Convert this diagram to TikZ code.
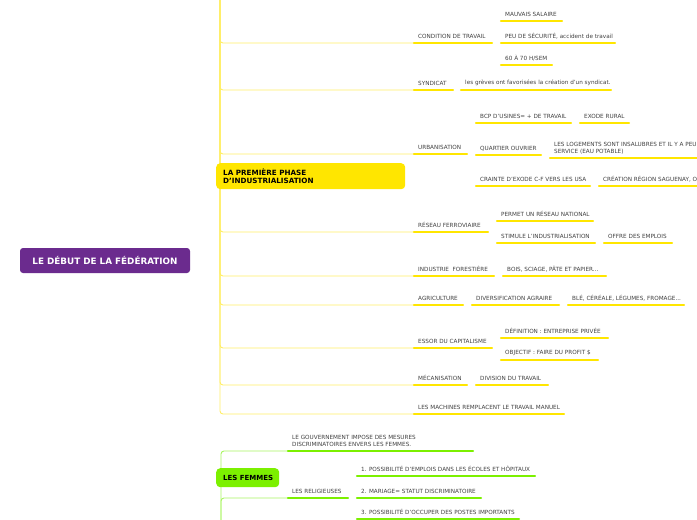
\documentclass[tikz,border=0pt]{standalone}
\usepackage{fontspec}
\setmainfont{DejaVu Sans}
\definecolor{ylw}{HTML}{FFE600}
\definecolor{lylw}{HTML}{FFEE66}
\definecolor{grn}{HTML}{7CF000}
\definecolor{lgrn}{HTML}{A8F560}
\definecolor{purp}{HTML}{6B2B8E}
\definecolor{txt}{HTML}{404040}
\tikzset{
 lbl/.style={anchor=south west,inner sep=0pt,text=txt,font=\fontsize{5.7}{7}\selectfont,align=left},
 uly/.style={draw=ylw,line width=2.4pt,line cap=round},
 ulg/.style={draw=grn,line width=2.4pt,line cap=round},
 bry/.style={draw=lylw,line width=0.9pt,rounded corners=3pt},
 brg/.style={draw=lgrn,line width=0.9pt,rounded corners=3pt},
}
\newcommand{\itm}[6]{% name, style, x1, x2, y, text
 \node[lbl] (#1) at (#3+4,#5-4) {#6};
 \coordinate (#1a) at (#3,#5); \coordinate (#1b) at (#4,#5);
 \draw[#2] (#1a) -- (#1b);}
\begin{document}
\begin{tikzpicture}[x=1pt,y=-1pt]
\useasboundingbox (0,0) rectangle (697,520);
\clip (0,0) rectangle (697,520);
% branches yellow
\foreach \yy in {43,90,154,232,276,305,348,385} {\draw[bry] (220,0) -- (220,\yy) -- (414,\yy);}
\draw[bry] (220,0) -- (220,414) -- (414,414);
\draw[brg] (221,520) -- (221,451) -- (288,451);
\draw[brg] (221,520) -- (221,498) -- (288,498);
% root
\node[fill=purp,rounded corners=3pt,minimum width=170pt,minimum height=25pt,text=white,font=\bfseries\fontsize{8.8}{10}\selectfont] (root) at (105,260.5) {LE DÉBUT DE LA FÉDÉRATION};
% main yellow
\node[fill=ylw,rounded corners=4pt,minimum width=189pt,minimum height=26pt,anchor=north west,inner sep=0pt] (phase) at (216,163) {};
\node[anchor=west,align=left,inner sep=0pt,font=\bfseries\fontsize{7.2}{8}\selectfont,text=black] (phaset) at (223,176) {LA PREMIÈRE PHASE\\D'INDUSTRIALISATION};
% green main
\node[fill=grn,rounded corners=4pt,minimum width=63pt,minimum height=19pt,anchor=north west,inner sep=0pt] (fem) at (216,468) {};
\node[font=\bfseries\fontsize{7}{8}\selectfont,inner sep=0pt,text=black,anchor=west] (femt) at (223,477.5) {LES FEMMES};
% items
\itm{a1}{uly}{501}{562}{21}{MAUVAIS SALAIRE}
\itm{a2}{uly}{414}{492}{43}{CONDITION DE TRAVAIL}
\itm{a3}{uly}{501}{615}{43}{PEU DE SÉCURITÉ, accident de travail}
\itm{a4}{uly}{501}{552}{65}{60 À 70 H/SEM}
\itm{b1}{uly}{414}{453}{90}{SYNDICAT}
\itm{b2}{uly}{461}{611}{90}{les grèves ont favorisées la création d'un syndicat.}
\itm{c1}{uly}{476}{571}{123}{BCP D'USINES= + DE TRAVAIL}
\itm{c2}{uly}{580}{629}{123}{EXODE RURAL}
\itm{c3}{uly}{414}{467}{154}{URBANISATION}
\itm{c4}{uly}{476}{541}{155}{QUARTIER OUVRIER}
\itm{c5}{uly}{550}{700}{158}{LES LOGEMENTS SONT INSALUBRES ET IL Y A PEU DE\\SERVICE (EAU POTABLE)}
\itm{c6}{uly}{476}{590}{186}{CRAINTE D'EXODE C-F VERS LES USA}
\itm{c7}{uly}{599}{700}{186}{CRÉATION RÉGION SAGUENAY, OUTAOUAIS}
\itm{d1}{uly}{497}{593}{221}{PERMET UN RÉSEAU NATIONAL}
\itm{d2}{uly}{414}{488}{232}{RÉSEAU FERROVIAIRE}
\itm{d3}{uly}{497}{595}{243}{STIMULE L'INDUSTRIALISATION}
\itm{d4}{uly}{604}{672}{243}{OFFRE DES EMPLOIS}
\itm{e1}{uly}{414}{494}{276}{INDUSTRIE\ \ FORESTIÈRE}
\itm{e2}{uly}{503}{606}{276}{BOIS, SCIAGE, PÂTE ET PAPIER...}
\itm{f1}{uly}{414}{463}{305}{AGRICULTURE}
\itm{f2}{uly}{472}{559}{305}{DIVERSIFICATION AGRAIRE}
\itm{f3}{uly}{568}{684}{305}{BLÉ, CÉRÉALE, LÉGUMES, FROMAGE...}
\itm{g1}{uly}{501}{608}{338}{DÉFINITION : ENTREPRISE PRIVÉE}
\itm{g2}{uly}{414}{492}{348}{ESSOR DU CAPITALISME}
\itm{g3}{uly}{501}{598}{360}{OBJECTIF : FAIRE DU PROFIT \$}
\itm{h1}{uly}{414}{467}{385}{MÉCANISATION}
\itm{h2}{uly}{476}{548}{385}{DIVISION DU TRAVAIL}
\itm{h3}{uly}{414}{564}{414}{LES MACHINES REMPLACENT LE TRAVAIL MANUEL}
\itm{i1}{ulg}{288}{473}{451}{LE GOUVERNEMENT IMPOSE DES MESURES\\DISCRIMINATOIRES ENVERS LES FEMMES.}
\itm{i2}{ulg}{357}{535}{476}{1. POSSIBILITÉ D'EMPLOIS DANS LES ÉCOLES ET HÔPITAUX}
\itm{i3}{ulg}{288}{348}{498}{LES RELIGIEUSES}
\itm{i4}{ulg}{357}{481}{498}{2. MARIAGE= STATUT DISCRIMINATOIRE}
\itm{i5}{ulg}{357}{519}{519}{3. POSSIBILITÉ D'OCCUPER DES POSTES IMPORTANTS}
\end{tikzpicture}
\end{document}
